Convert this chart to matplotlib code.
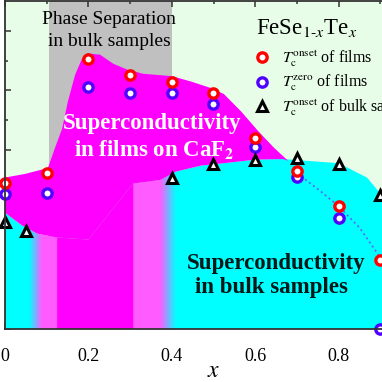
import numpy as np
import matplotlib
matplotlib.use("Agg")
import matplotlib.pyplot as plt
from matplotlib.patches import Polygon, Rectangle

plt.rcParams['font.family'] = ['Liberation Serif', 'DejaVu Serif']
plt.rcParams['mathtext.fontset'] = 'stix'

# ---------------- data ----------------
x_films = [0.0, 0.1, 0.2, 0.3, 0.4, 0.5, 0.6, 0.7, 0.8, 0.9]
tc_onset_films = [12.25, 13.1, 22.6, 21.3, 20.75, 19.75, 16.0, 13.25, 10.3, 5.8]
tc_zero_films = [11.3, 11.4, 20.3, 19.75, 19.8, 18.9, 15.25, 12.75, 9.3, 0.0]

x_bulk = [0.0, 0.05, 0.4, 0.5, 0.6, 0.7, 0.8, 0.9]
tc_onset_bulk = [9.0, 8.25, 12.7, 13.8, 14.2, 14.3, 13.8, 11.2]

# dotted guide line
guide_x = [0.71, 0.755, 0.8, 0.85, 0.9]
guide_t = [12.8, 11.6, 10.3, 8.5, 6.0]

# boundary of the "films" superconducting region (upper edge)
film_edge_x = [0.0, 0.048, 0.103, 0.12, 0.137, 0.151, 0.168, 0.185, 0.199, 0.228,
               0.259, 0.293, 0.331, 0.40, 0.446, 0.494, 0.525, 0.566, 0.607, 0.645, 0.679]
film_edge_t = [12.7, 13.0, 13.5, 15.2, 16.8, 19.1, 21.3, 22.7, 23.1, 23.0,
               22.25, 21.75, 21.4, 21.2, 20.75, 20.2, 19.7, 18.25, 16.6, 15.2, 14.1]

# boundary of the "bulk" superconducting dome (upper edge)
bulk_edge_x = [0.0, 0.04, 0.077, 0.125, 0.2, 0.307, 0.372, 0.41, 0.47, 0.525,
               0.6, 0.667, 0.8, 0.868, 0.904, 0.95, 1.0]
bulk_edge_t = [9.75, 8.7, 8.0, 7.67, 7.5, 12.2, 12.5, 13.2, 13.7, 13.9,
               14.2, 14.25, 13.9, 12.7, 11.2, 9.0, 6.0]

# phase separation band
phase_sep = (0.105, 0.40)

# horizontal colour stops of the bulk dome
c_cyan = (0.0, 1.0, 1.0)
c_pink = (1.0, 0.36, 1.0)
c_mag = (1.0, 0.0, 1.0)
stop_pos = [0.0, 0.058, 0.088, 0.125, 0.1251, 0.307, 0.3071, 0.372, 0.41, 1.0]
stop_col = [c_cyan, c_cyan, c_pink, c_pink, c_mag, c_mag, c_pink, c_pink, c_cyan, c_cyan]

xticks = [0.0, 0.2, 0.4, 0.6, 0.8]
xticklabels = ["0", "0.2", "0.4", "0.6", "0.8"]

# ---------------- figure ----------------
W = 382
fig = plt.figure(figsize=(3.82, 3.82), dpi=100)
ax = fig.add_axes([5 / W, 53 / W, 417 / W, 328 / W])
ax.set_xlim(0, 1.0)
ax.set_ylim(0, 27.5)
ax.set_facecolor('#e8fde8')

# phase separation band
ax.add_patch(Rectangle((phase_sep[0], 0), phase_sep[1] - phase_sep[0], 27.5,
                       facecolor='#c0c0c0', edgecolor='none', zorder=1))

# bulk dome with horizontal colour gradient
xs = np.linspace(0, 1, 1200)
rgb = np.zeros((2, xs.size, 3))
for ch in range(3):
    rgb[:, :, ch] = np.interp(xs, stop_pos, [c[ch] for c in stop_col])[None, :]
im = ax.imshow(rgb, extent=(0, 1, 0, 27.5), origin='lower', aspect='auto',
               interpolation='bilinear', zorder=2)
dome_verts = list(zip(bulk_edge_x, bulk_edge_t)) + [(1.0, 0.0), (0.0, 0.0)]
dome = Polygon(dome_verts, closed=True, transform=ax.transData, facecolor='none', edgecolor='none')
im.set_clip_path(dome)

# films region
lower = [(bx, bt) for bx, bt in zip(bulk_edge_x, bulk_edge_t) if bx <= film_edge_x[-1]]
film_verts = list(zip(film_edge_x, film_edge_t)) + lower[::-1]
ax.add_patch(Polygon(film_verts, closed=True, facecolor='#ff00ff', edgecolor='none', zorder=3))

# guide
ax.plot(guide_x, guide_t, ls=(0, (1.2, 1.8)), color='#6060ff', lw=1.2, zorder=4)

# data
ms, mew = 6.7, 2.4
h1, = ax.plot(x_films, tc_onset_films, ls='none', marker='o', ms=ms, mew=mew,
              mec='#ff0000', mfc='white', zorder=6, clip_on=False)
h2, = ax.plot(x_films, tc_zero_films, ls='none', marker='o', ms=ms, mew=mew,
              mec='#5000ff', mfc='white', zorder=5, clip_on=False)
h3, = ax.plot(x_bulk, tc_onset_bulk, ls='none', marker='^', ms=7, mew=2.2,
              mec='black', mfc='white', zorder=6, clip_on=False)

# texts
ax.text(0.25, 25.6, "Phase Separation", ha='center', va='baseline', fontsize=14, zorder=7)
ax.text(0.25, 23.75, "in bulk samples", ha='center', va='baseline', fontsize=14, zorder=7)
ax.text(0.353, 16.75, "Superconductivity", ha='center', va='baseline', fontsize=16.5,
        fontweight='bold', color='white', zorder=7)
ax.text(0.357, 14.5, r"in films on CaF$_\mathbf{2}$", ha='center', va='baseline', fontsize=16.5,
        fontweight='bold', color='white', zorder=7)
ax.text(0.65, 5.05, "Superconductivity", ha='center', va='baseline', fontsize=16.5,
        fontweight='bold', color='#001818', zorder=7)
ax.text(0.638, 3.0, "in bulk samples", ha='center', va='baseline', fontsize=16.5,
        fontweight='bold', color='#001818', zorder=7)

# legend title and entries
ax.text(0.602, 24.75, r"FeSe$_{1\text{-}x}$Te$_x$", ha='left', va='baseline', fontsize=16.5, zorder=8)
leg = ax.legend([h1, h2, h3],
                [r"$T_{\rm c}^{\rm onset}$ of films", r"$T_{\rm c}^{\rm zero}$ of films",
                 r"$T_{\rm c}^{\rm onset}$ of bulk samples"],
                loc='upper left', bbox_to_anchor=(254 / W, 1 - 49 / W), bbox_transform=fig.transFigure,
                fontsize=11.5, frameon=False, handlelength=1.05, handletextpad=0.7,
                borderpad=0, borderaxespad=0, labelspacing=0.25)
leg.set_zorder(8)

# axes styling
ax.set_xticks(xticks)
ax.set_xticklabels(xticklabels)
ax.set_xticks(np.arange(0.1, 1.0, 0.2), minor=True)
ax.set_yticks(np.arange(0, 27.5, 5))
ax.set_yticks(np.arange(2.5, 27.5, 5), minor=True)
ax.tick_params(which='both', direction='in', top=True, right=True, labelleft=False,
               colors='#333333', labelcolor='black', labelsize=13, pad=14)
ax.tick_params(which='major', length=4.5, width=1.1)
ax.tick_params(which='minor', length=2.5, width=1.1)
for s in ax.spines.values():
    s.set_color('#333333')
    s.set_linewidth(1.3)
    s.set_zorder(9)
ax.set_xlabel(r"$x$", fontsize=17, labelpad=-3)

fig.savefig("out.png", dpi=100)
